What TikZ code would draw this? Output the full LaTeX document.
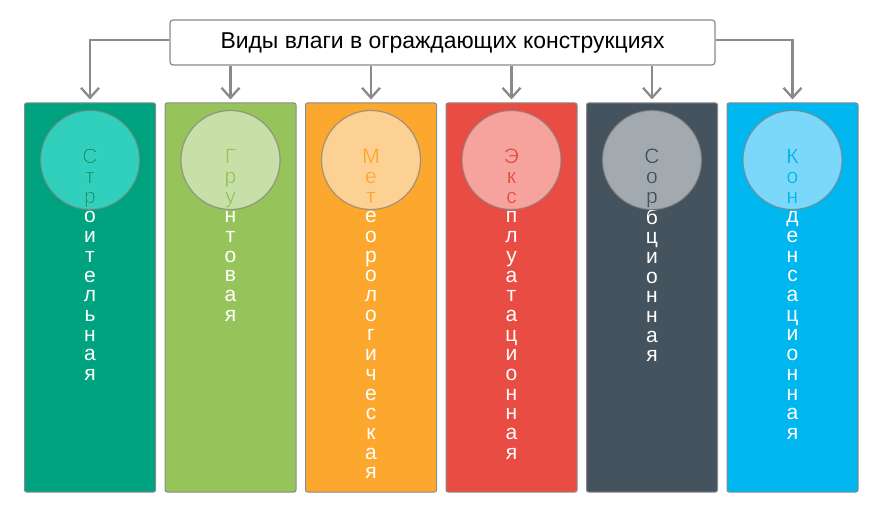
\documentclass[tikz,border=0pt]{standalone}
\usepackage{fontspec}
\setmainfont{Liberation Sans}
\usetikzlibrary{arrows.meta}

\definecolor{linegray}{HTML}{8A8A8A}
\definecolor{strc}{HTML}{00A37F}
\definecolor{strl}{HTML}{30D0BC}
\definecolor{grnc}{HTML}{96C45B}
\definecolor{grnl}{HTML}{C8E0A8}
\definecolor{metc}{HTML}{FCA72D}
\definecolor{metl}{HTML}{FDD194}
\definecolor{expc}{HTML}{E84C43}
\definecolor{expl}{HTML}{F6A39D}
\definecolor{sorc}{HTML}{45535F}
\definecolor{sorl}{HTML}{A2A9AF}
\definecolor{konc}{HTML}{00B6EF}
\definecolor{konl}{HTML}{7BD8FB}

\tikzset{
  titlebox/.style={draw=linegray, line width=1.2pt, rounded corners=3pt, fill=white,
    minimum width=545pt, minimum height=45pt, font=\fontsize{22.9}{26}\selectfont},
  colbox/.style={draw=linegray, line width=1pt, rounded corners=2pt,
    minimum width=131pt, minimum height=389pt, inner sep=0pt},
  stack/.style={anchor=north, align=center, inner sep=0pt,
    font=\fontsize{21}{19.7}\selectfont},
  ringline/.style={draw=gray, line width=1.2pt, draw opacity=0.7},
  link/.style={draw=linegray, line width=2.3pt, shorten >=3pt,
    -{Straight Barb[length=10pt,width=18pt]}}
}

\begin{document}
\begin{tikzpicture}[x=1pt,y=-1pt]
  \useasboundingbox (0,0) rectangle (886,516);

  \node[titlebox] (title) at (442.5,42.5) {Виды влаги в ограждающих конструкциях};

  \foreach \i/\fc/\lc/\word in {
    1/strc/strl/{С\\т\\р\\о\\и\\т\\е\\л\\ь\\н\\а\\я},
    2/grnc/grnl/{Г\\р\\у\\н\\т\\о\\в\\а\\я},
    3/metc/metl/{М\\е\\т\\е\\о\\р\\о\\л\\о\\г\\и\\ч\\е\\с\\к\\а\\я},
    4/expc/expl/{Э\\к\\с\\п\\л\\у\\а\\т\\а\\ц\\и\\о\\н\\н\\а\\я},
    5/sorc/sorl/{С\\о\\р\\б\\ц\\и\\о\\н\\н\\а\\я},
    6/konc/konl/{К\\о\\н\\д\\е\\н\\с\\а\\ц\\и\\о\\н\\н\\а\\я}}{
    \pgfmathsetmacro\x{90+140.5*(\i-1)}
    \node[colbox, fill=\fc] (c\i) at (\x,297.5) {};
    \fill[\lc] (\x,160) circle (49.5pt);
    \node[stack, text=white] (w\i) at (\x,149) {\word};
    \begin{scope}
      \clip (\x,160) circle (49.5pt);
      \node[stack, text=\fc] (v\i) at (\x,149) {\word};
    \end{scope}
    \draw[ringline] (\x,160) circle (49.5pt);
  }

  \draw[link] ([yshift=2.5pt]title.west) -| (c1.north);
  \draw[link] ([yshift=2.5pt]title.east) -| (c6.north);
  \foreach \i in {2,...,5}
    \draw[link] (title.south -| c\i.north) -- (c\i.north);
\end{tikzpicture}
\end{document}
